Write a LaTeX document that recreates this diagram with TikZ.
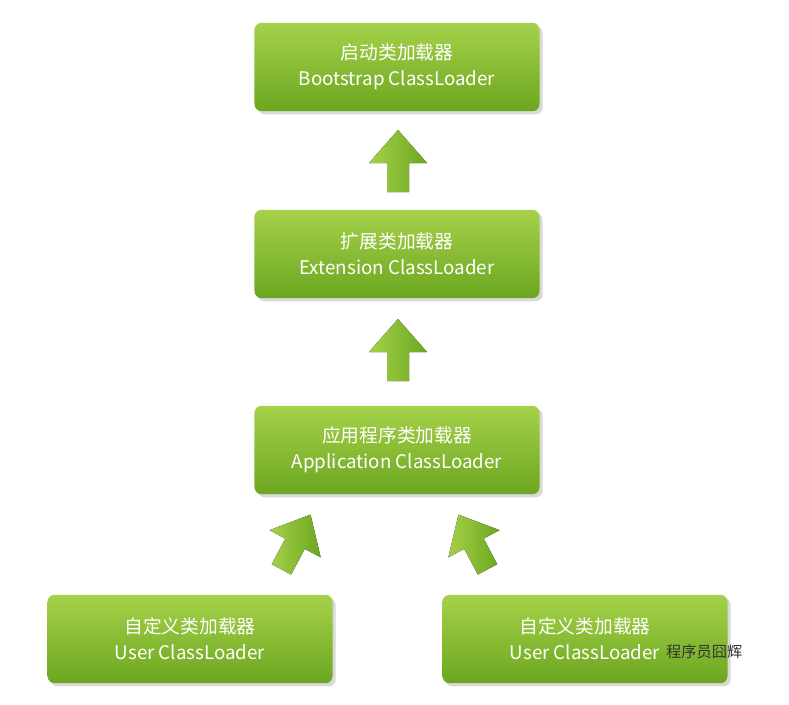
\documentclass[tikz,border=0pt]{standalone}
\usepackage{fontspec}
\setmainfont{Noto Sans CJK SC}
\usetikzlibrary{shadows}
\definecolor{lgreen}{HTML}{A6D14A}
\definecolor{dgreen}{HTML}{6CA620}
\newcommand{\uparr}[3]{% center x, center y, rotation
  \begin{scope}[shift={(#1,#2)},rotate=#3]
    \fill[left color=lgreen,right color=dgreen]
      (-11,31) -- (-11,2) -- (-29,2) -- (0,-31) -- (29,2) -- (11,2) -- (11,31) -- cycle;
  \end{scope}}
\begin{document}
\begin{tikzpicture}
	[x=0.03cm,y=-0.03cm,
	 loader/.style={rectangle,rounded corners=6pt,minimum width=8.55cm,minimum height=2.65cm,
	   top color=lgreen,bottom color=dgreen,draw=none,text=white,align=center,
	   font=\fontsize{16}{22}\selectfont,drop shadow={opacity=0.3}},
	 wmark/.style={font=\fontsize{13}{15}\selectfont,text=black!80}]
\useasboundingbox (0,0) rectangle (789,705);

\node [loader] (boot) at (397,67) {启动类加载器\\Bootstrap ClassLoader};
\node [loader] (ext) at (397,254) {扩展类加载器\\Extension ClassLoader};
\node [loader] (app) at (397,450) {应用程序类加载器\\Application ClassLoader};
\node [loader] (userl) at (190,639) {自定义类加载器\\User ClassLoader};
\node [loader] (userr) at (585,639) {自定义类加载器\\User ClassLoader};

\uparr{398}{161}{0}
\uparr{398}{350}{0}
\uparr{296}{542}{-28}
\uparr{473}{542}{28}

\node [wmark,anchor=west] (wm) at (662,652) {程序员囧辉};
\end{tikzpicture}
\end{document}
